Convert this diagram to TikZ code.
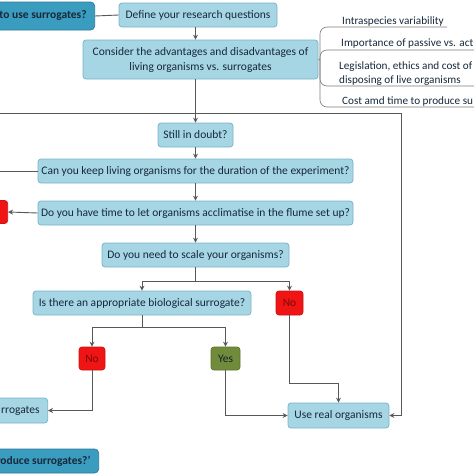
\documentclass[tikz,border=0pt]{standalone}
\usepackage{fontspec}
\setmainfont{Carlito}
\usetikzlibrary{arrows.meta}
\definecolor{lbfill}{RGB}{166,214,228}
\definecolor{lbdraw}{RGB}{118,178,200}
\definecolor{dbfill}{RGB}{58,156,190}
\definecolor{dbdraw}{RGB}{40,122,152}
\definecolor{rdfill}{RGB}{240,20,20}
\definecolor{rddraw}{RGB}{200,20,20}
\definecolor{rdtext}{RGB}{120,10,10}
\definecolor{gnfill}{RGB}{112,140,58}
\definecolor{gndraw}{RGB}{90,115,45}
\definecolor{txt}{RGB}{22,40,58}
\definecolor{lin}{RGB}{88,88,88}
\begin{document}
\begin{tikzpicture}[x=1pt,y=-1pt,
  font=\fontsize{11.5}{15}\selectfont,
  box/.style={draw=lbdraw, fill=lbfill, rounded corners=3pt, text=txt, inner sep=0pt, align=center, line width=0.7pt},
  darkbox/.style={draw=dbdraw, fill=dbfill, rounded corners=4pt, text=txt, inner xsep=8pt, inner ysep=0pt, font=\fontsize{11.5}{14}\selectfont\bfseries, line width=0.7pt},
  redbox/.style={draw=rddraw, fill=rdfill, rounded corners=3pt, text=rdtext, inner sep=0pt, line width=0.7pt},
  greenbox/.style={draw=gndraw, fill=gnfill, rounded corners=3pt, text=txt!80!black, inner sep=0pt, line width=0.7pt},
  conn/.style={draw=lin, line width=0.9pt},
  arr/.style={conn, -{Stealth[length=5pt,width=5pt]}},
  note/.style={anchor=base west, text=txt, inner sep=0pt, font=\fontsize{11.2}{13}\selectfont},
  brace/.style={draw=lin!80, line width=0.6pt, rounded corners=7pt}]
\clip (0,0) rectangle (474,474);
% top row
\node[darkbox, minimum height=28, anchor=east] (when) at (95,16) {to use surrogates?};
\node[box, minimum width=158, minimum height=24] (define) at (198,15) {Define your research questions};
\node[box, minimum width=235, minimum height=39] (consider) at (200.5,59.5) {Consider the advantages and disadvantages of\\living organisms vs. surrogates};
% main column
\node[box, minimum width=75, minimum height=24] (still) at (195.5,135) {Still in doubt?};
\node[box, minimum width=315, minimum height=24] (keep) at (195.5,171) {Can you keep living organisms for the duration of the experiment?};
\node[box, minimum width=315, minimum height=24] (time) at (195.5,213) {Do you have time to let organisms acclimatise in the flume set up?};
\node[redbox, minimum width=20, minimum height=23, anchor=east] (redL) at (8,212) {};
\node[box, minimum width=187, minimum height=24] (scale) at (195.5,255) {Do you need to scale your organisms?};
\node[box, minimum width=218, minimum height=24] (bio) at (142,303) {Is there an appropriate biological surrogate?};
\node[redbox, minimum width=27, minimum height=24] (noR) at (289.5,303) {No};
\node[redbox, minimum width=26, minimum height=23] (noL) at (92,358.5) {No};
\node[greenbox, minimum width=29, minimum height=23] (yes) at (225.5,358.5) {Yes};
\node[box, minimum height=25, anchor=east, inner xsep=8pt] (useS) at (48,410.5) {rrogates};
\node[box, minimum width=101, minimum height=25] (use) at (338.5,415.5) {Use real organisms};
\node[darkbox, minimum height=24, anchor=east] (how) at (99,461) {roduce surrogates?'};
% connectors
\draw[conn] (when.east) -- (define.west);
\draw[arr] (define.south -| still.north) -- (consider.north -| still.north);
\draw[arr] (consider.south -| still.north) -- (still.north);
\coordinate (loopL) at (-5,113);
\coordinate (loopR) at (401,113);
\draw[arr] (loopL) -- (loopR) |- (use.east);
\draw[arr] (still.south) -- (keep.north);
\coordinate (keepL) at (-5,171);
\draw[conn] (keepL) -- (keep.west);
\draw[arr] (keep.south) -- (time.north);
\draw[arr] (time.west) -- (redL.east);
\draw[arr] (time.south) -- (scale.north);
\coordinate (sp1) at (195.5,281);
\draw[conn] (scale.south) -- (sp1);
\draw[arr] (sp1) -| (bio.north);
\draw[arr] (sp1) -| (noR.north);
\coordinate (sp2) at (142,327);
\draw[conn] (bio.south) -- (sp2);
\draw[arr] (sp2) -| (noL.north);
\draw[arr] (sp2) -| (yes.north);
\draw[arr] (noL.south) |- (useS.east);
\draw[arr] (yes.south) |- (use.west);
\coordinate (c3) at (338.5,383);
\draw[arr] (noR.south) |- (c3) -- (use.north);
% bracket list
\coordinate (br) at (320,60);
\coordinate (e1) at (447,27);
\coordinate (e2) at (476,50);
\coordinate (e3) at (476,86);
\coordinate (e4) at (476,107);
\draw[draw=lin!80, line width=0.6pt] (consider.east) -- (br);
\draw[brace] (br) |- (e1);
\draw[brace] (br) |- (e2);
\draw[brace] (br) |- (e3);
\draw[brace] (br) |- (e4);
\node[note] (n1) at (342,24) {Intraspecies variability};
\node[note] (n2) at (341,46.5) {Importance of passive vs. act};
\node[note] (n3) at (339,69.5) {Legislation, ethics and cost of};
\node[note] (n3b) at (339,83.5) {disposing of live organisms};
\node[note] (n4) at (342,104) {Cost amd time to produce su};
\end{tikzpicture}
\end{document}
